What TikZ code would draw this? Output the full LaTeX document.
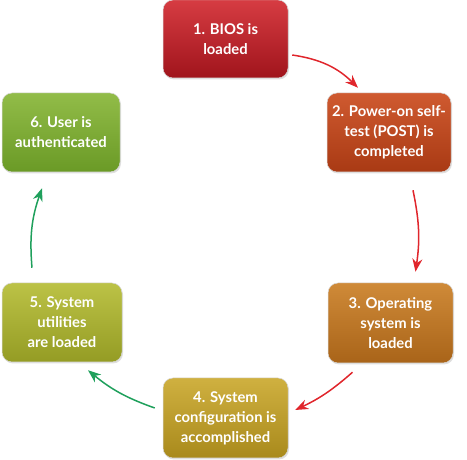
\documentclass[tikz,border=0pt]{standalone}
\usepackage{fontspec}
\setmainfont{Lato}
\usetikzlibrary{arrows.meta,shadows}
\definecolor{r1t}{HTML}{D63C42}\definecolor{r1b}{HTML}{A0141C}
\definecolor{r2t}{HTML}{CF5A30}\definecolor{r2b}{HTML}{A93A14}
\definecolor{r3t}{HTML}{CF8A38}\definecolor{r3b}{HTML}{A96419}
\definecolor{r4t}{HTML}{CFB040}\definecolor{r4b}{HTML}{A98A1C}
\definecolor{r5t}{HTML}{BCC246}\definecolor{r5b}{HTML}{949C24}
\definecolor{r6t}{HTML}{92BC48}\definecolor{r6b}{HTML}{6A9A26}
\definecolor{redarrow}{HTML}{E0262C}
\definecolor{greenarrow}{HTML}{1FA05C}
\tikzset{
  stepbox/.style={rounded corners=10pt, align=center, text=white,
    font=\bfseries\fontsize{14.8}{20}\selectfont, inner sep=2pt,
    draw=white!85!black, line width=0.5pt,
    drop shadow={opacity=0.25,shadow xshift=1pt,shadow yshift=-1.5pt}},
  cyc/.style={line width=1.5pt, -{Stealth[length=13pt,width=10pt]}, bend left=18}
}
\begin{document}
\begin{tikzpicture}[x=1pt,y=1pt]
\useasboundingbox (0,0) rectangle (467,460);
\node[stepbox, top color=r1t, bottom color=r1b, minimum width=125pt, minimum height=78pt] (b1) at (225.5,421) {1. BIOS is\\loaded};
\node[stepbox, top color=r2t, bottom color=r2b, minimum width=124pt, minimum height=79pt] (b2) at (389,327.5) {2. Power-on self-\\test (POST) is\\completed};
\node[stepbox, top color=r3t, bottom color=r3b, minimum width=125pt, minimum height=80pt] (b3) at (390.5,137) {3. Operating\\system is\\loaded};
\node[stepbox, top color=r4t, bottom color=r4b, minimum width=125pt, minimum height=80pt] (b4) at (225.5,42) {4. System\\configuration is\\accomplished};
\node[stepbox, top color=r5t, bottom color=r5b, minimum width=120pt, minimum height=79pt] (b5) at (62,137.5) {5. System\\utilities\\are loaded};
\node[stepbox, top color=r6t, bottom color=r6b, minimum width=118pt, minimum height=79pt] (b6) at (61,327.5) {6. User is\\authenticated};
\draw[cyc, redarrow] ([xshift=4pt,yshift=-16pt]b1.east) to ([xshift=-31pt,yshift=5pt]b2.north);
\draw[cyc, redarrow, bend left=10] ([xshift=24pt,yshift=-18pt]b2.south) to ([xshift=25pt,yshift=11pt]b3.north);
\draw[cyc, redarrow, bend left=8] ([xshift=-38pt,yshift=-9pt]b3.south) to ([xshift=7pt,yshift=8pt]b4.east);
\draw[cyc, greenarrow, bend left=10] ([xshift=-8pt,yshift=10pt]b4.west) to ([xshift=26pt,yshift=-8pt]b5.south);
\draw[cyc, greenarrow, bend left=12] ([xshift=-30pt,yshift=15pt]b5.north) to ([xshift=-19pt,yshift=-16pt]b6.south);
\end{tikzpicture}
\end{document}
